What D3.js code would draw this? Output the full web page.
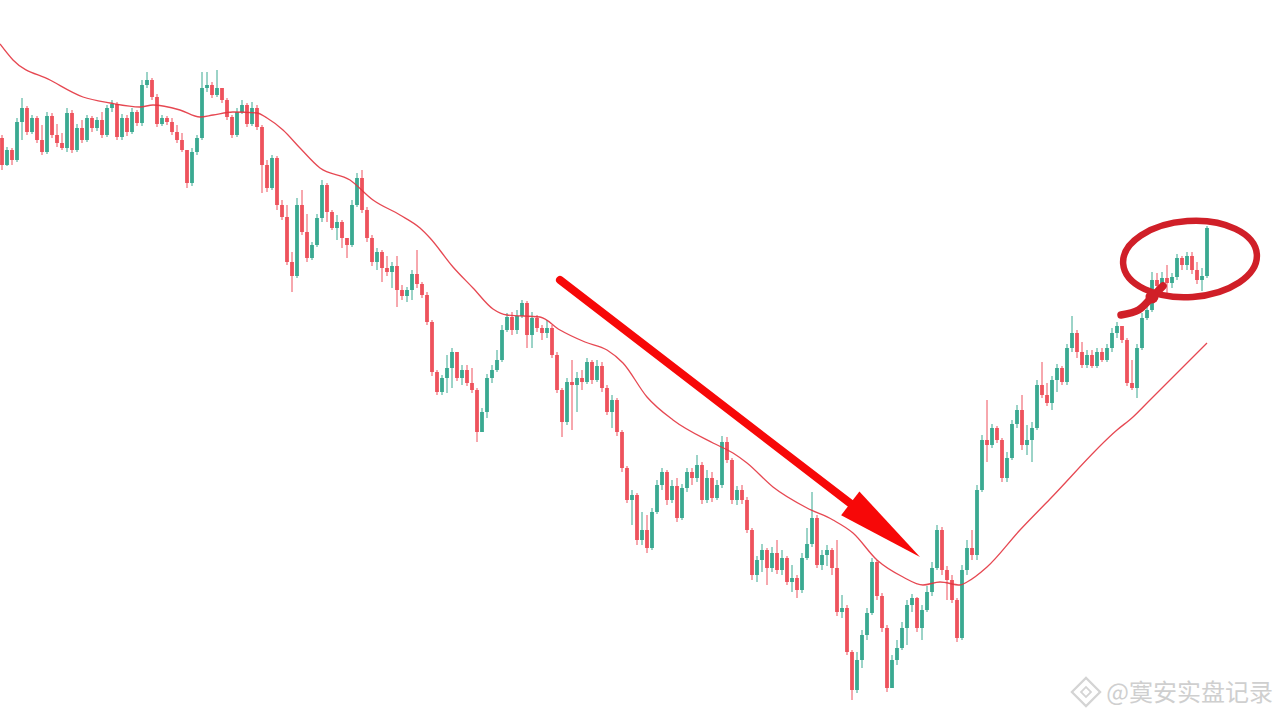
<!DOCTYPE html>
<html>
<head>
<meta charset="utf-8">
<script src="https://cdn.jsdelivr.net/npm/d3@7"></script>
<style>
html, body { margin: 0; padding: 0; background: #fff; overflow: hidden; }
</style>
</head>
<body>
<svg id="chart" width="1281" height="718"></svg>
<script>
// price units are arbitrary (no axis in the picture)
var firstOpen = 582;
var closes = [555,570,560,598,612,588,602,580,568,604,585,577,572,607,570,592,580,602,592,600,
    585,612,616,583,602,588,608,597,635,640,623,596,602,598,588,580,570,537,568,582,
    632,635,625,632,620,603,585,608,615,596,612,593,555,532,562,515,503,458,444,515,
    488,462,475,502,535,508,492,498,482,475,515,542,510,482,458,468,452,448,454,430,
    424,430,446,436,425,398,348,328,342,352,368,342,350,337,330,288,308,342,350,360,
    390,403,390,404,417,385,402,392,387,392,365,330,298,338,335,342,338,358,340,354,
    332,308,320,288,252,220,225,180,190,172,208,235,248,220,234,202,232,248,242,255,
    220,242,222,235,278,260,220,230,220,190,145,160,170,152,167,150,162,138,142,130,
    162,176,202,155,165,170,152,108,112,68,30,60,85,107,158,124,92,32,60,72,
    92,115,122,92,110,128,152,190,150,140,120,82,150,172,165,230,280,275,292,280,
    242,262,296,310,275,280,292,335,325,317,340,352,338,372,387,368,355,365,354,368,
    360,372,387,394,380,337,332,372,402,410,440,434,442,437,443,462,455,464,450,440,
    444,492];
var highs = [585,573,572,602,622,614,605,604,595,608,607,596,587,612,610,596,600,605,604,603,
    608,615,620,618,606,605,612,610,640,648,642,626,605,604,602,595,587,570,572,585,
    648,648,638,650,630,622,605,612,620,617,618,615,595,560,565,564,520,515,468,522,
    530,506,478,506,540,537,510,505,500,482,520,547,550,513,485,472,470,464,458,464,
    435,433,450,470,438,428,400,350,345,365,372,368,355,355,352,332,312,346,355,370,
    395,407,408,410,420,419,408,405,395,400,395,368,332,342,360,348,350,362,360,360,
    358,335,325,322,290,254,230,227,208,205,212,240,252,250,240,242,236,252,252,265,
    258,250,248,240,284,283,262,234,235,223,192,164,176,172,173,180,170,164,155,145,
    167,192,228,205,170,175,172,180,125,115,70,68,90,112,162,160,127,95,65,80,
    98,120,126,123,115,134,158,195,193,154,145,122,155,180,190,235,285,320,296,294,
    282,268,300,315,325,295,298,340,358,337,344,356,354,376,404,390,378,370,370,372,
    372,376,392,398,392,382,360,376,407,415,448,447,448,455,447,466,464,468,468,458,
    452,494];
var lows = [550,554,555,558,580,585,586,577,565,566,582,573,570,568,567,568,577,578,588,589,
    582,583,608,580,580,584,586,594,594,632,620,593,594,595,585,577,568,532,534,565,
    580,628,622,623,617,600,582,583,606,593,594,590,527,528,530,510,500,455,428,442,
    485,458,460,473,498,498,490,480,472,462,473,513,507,478,454,450,438,444,432,413,
    420,418,420,432,422,395,344,325,325,327,332,339,335,334,327,278,288,302,337,348,
    358,388,385,386,402,372,372,388,380,382,362,327,283,295,290,308,330,336,336,338,
    328,305,292,284,248,217,195,175,175,167,170,206,230,215,217,198,200,228,235,238,
    216,217,218,220,232,257,216,215,216,187,140,138,148,135,148,146,145,135,128,122,
    127,160,173,152,150,154,145,104,102,65,20,27,52,80,105,120,88,28,32,55,
    70,75,108,88,80,108,124,150,145,120,117,78,80,145,160,160,228,258,272,277,
    238,238,260,292,270,265,258,290,322,314,310,328,335,335,368,362,352,352,352,352,
    358,358,368,382,377,334,330,322,370,400,408,430,430,424,432,440,450,450,446,436,
    429,442];

// moving average at a few candle positions
var maIndex = [-0.4,2.2,9.6,16.2,21.6,27.6,30.2,35.6,39.6,42.2,46.2,51,53,56.2,59.6,63.6,69.6,74.2,79.6,83.6,
    85.6,90.2,94.2,98.2,101,107.6,111.6,116.6,121,124.2,129,134.2,142.2,146.2,149,154.2,161,166.2,170.2,175,
    180.2,184.2,187.6,191.6,193,197,203.6,209.6,223,226.2,229.6,241];
var maValue = [676,660,640,623,617,613,615,610,603,605,608,607,602,590,572,552,540,520,505,492,
    482,453,432,411,405,403,390,378,370,357,323,300,277,267,257,233,212,200,187,160,
    143,135,138,135,138,153,190,221,290,303,320,377];

// annotations, in candle index / price
var arrowFrom = [111.6, 440];
var arrowTo = [183.6, 163];
var circleAt = [237.6, 461];
var tailPts = [[223.8, 405], [227.3, 410], [230, 423], [232.2, 434]];
var watermark = "@寞安实盘记录";

var upColor = "#1f9e82", downColor = "#ec3b46";

var svg = d3.select("#chart");

var x = d3.scaleLinear().domain([0, closes.length - 1]).range([2, 1207]);
var y = d3.scaleLinear().domain([0, 720]).range([720, 0]);

var candles = closes.map(function (c, i) {
    var o = i == 0 ? firstOpen : closes[i - 1];
    return { i: i, o: o, c: c, h: Math.max(highs[i], o, c), l: Math.min(lows[i], o, c) };
});

var g = svg.append("g");

var cg = g.selectAll(".candle")
    .data(candles)
    .enter().append("g")
    .attr("class", "candle")
    .attr("opacity", 0.88);

cg.append("line")
    .attr("x1", function (d) { return x(d.i); })
    .attr("x2", function (d) { return x(d.i); })
    .attr("y1", function (d) { return y(d.h); })
    .attr("y2", function (d) { return y(d.l); })
    .attr("stroke", function (d) { return d.c >= d.o ? upColor : downColor; })
    .attr("stroke-width", 1);

cg.append("rect")
    .attr("x", function (d) { return x(d.i) - 1.9; })
    .attr("width", 3.8)
    .attr("y", function (d) { return y(Math.max(d.o, d.c)); })
    .attr("height", function (d) { return Math.max(1, Math.abs(y(d.o) - y(d.c))); })
    .attr("fill", function (d) { return d.c >= d.o ? upColor : downColor; });

// MA line
var maLine = d3.line()
    .x(function (d) { return x(d[0]); })
    .y(function (d) { return y(d[1]); })
    .curve(d3.curveMonotoneX);

g.append("path")
    .datum(maIndex.map(function (v, i) { return [v, maValue[i]]; }))
    .attr("d", maLine)
    .attr("fill", "none")
    .attr("stroke", "#e3343f")
    .attr("stroke-width", 1.3)
    .attr("opacity", 0.9);

// big arrow
var p0 = [x(arrowFrom[0]), y(arrowFrom[1])],
    p1 = [x(arrowTo[0]), y(arrowTo[1])];
var dx = p1[0] - p0[0], dy = p1[1] - p0[1], len = Math.sqrt(dx * dx + dy * dy);
var ux = dx / len, uy = dy / len, nx = -uy, ny = ux;
var headLen = 88, headHalf = 15;
var bx = p1[0] - ux * headLen, by = p1[1] - uy * headLen;

g.append("line")
    .attr("x1", p0[0]).attr("y1", p0[1])
    .attr("x2", bx + ux * 4).attr("y2", by + uy * 4)
    .attr("stroke", "#f70808")
    .attr("stroke-width", 8)
    .attr("stroke-linecap", "round");

g.append("path")
    .attr("d", "M" + p1[0] + "," + p1[1] +
        "L" + (bx + nx * headHalf) + "," + (by + ny * headHalf) +
        "L" + (bx - nx * headHalf) + "," + (by - ny * headHalf) + "Z")
    .attr("fill", "#f70808");

// hand drawn circle
var cx = x(circleAt[0]), cy = y(circleAt[1]);
g.append("ellipse")
    .attr("cx", cx).attr("cy", cy)
    .attr("rx", 67).attr("ry", 38)
    .attr("transform", "rotate(-4," + cx + "," + cy + ")")
    .attr("fill", "none")
    .attr("stroke", "#d01f28")
    .attr("stroke-width", 6.5);

g.append("path")
    .datum(tailPts)
    .attr("d", d3.line()
        .x(function (d) { return x(d[0]); })
        .y(function (d) { return y(d[1]); })
        .curve(d3.curveCatmullRom))
    .attr("fill", "none")
    .attr("stroke", "#d01f28")
    .attr("stroke-width", 7.5)
    .attr("stroke-linecap", "round");

g.append("circle")
    .attr("cx", x(tailPts[2][0])).attr("cy", y(tailPts[2][1]))
    .attr("r", 6.5)
    .attr("fill", "#d01f28");

// watermark
var wm = svg.append("g").attr("transform", "translate(1086,692)");
wm.append("rect")
    .attr("x", -10).attr("y", -10).attr("width", 20).attr("height", 20)
    .attr("transform", "rotate(45)")
    .attr("fill", "none").attr("stroke", "#d4d4d4").attr("stroke-width", 2.2);
wm.append("rect")
    .attr("x", -3.5).attr("y", -3.5).attr("width", 7).attr("height", 7)
    .attr("transform", "rotate(45)")
    .attr("fill", "none").attr("stroke", "#d4d4d4").attr("stroke-width", 1.8);

svg.append("text")
    .attr("x", 1273)
    .attr("y", 701)
    .attr("text-anchor", "end")
    .attr("font-family", "'Noto Sans CJK SC', 'Noto Sans', sans-serif")
    .attr("font-size", 24)
    .attr("fill", "#cfcfcf")
    .text(watermark);
</script>
</body>
</html>
